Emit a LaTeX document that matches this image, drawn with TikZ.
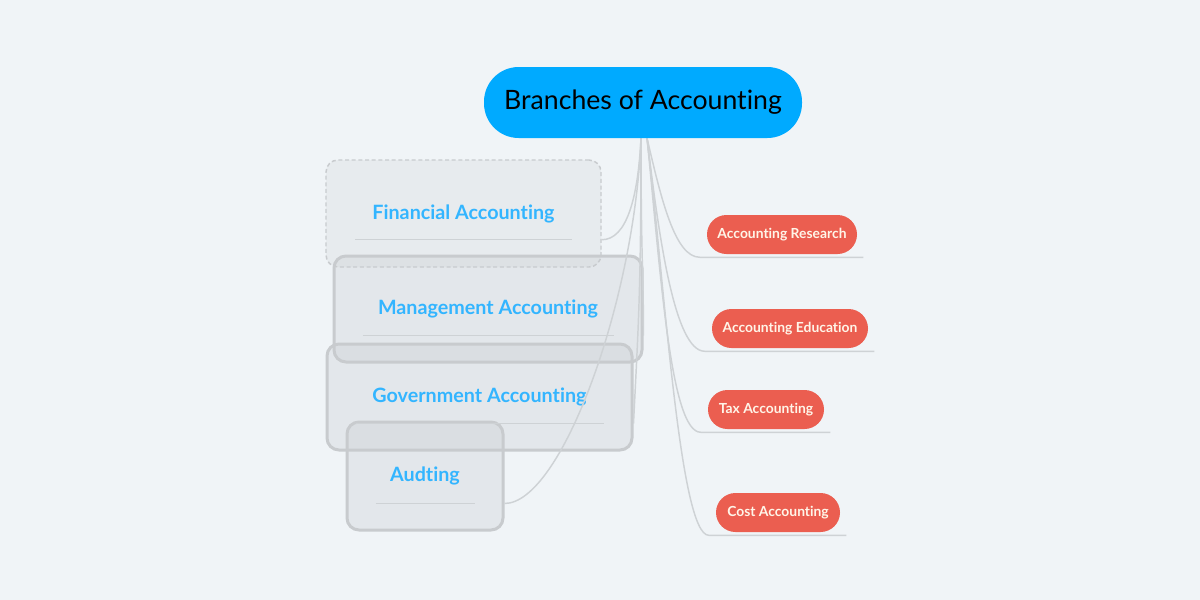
\documentclass[tikz,border=0pt]{standalone}
\usepackage{fontspec}
\setmainfont{Lato}[Ligatures=NoCommon]
\usetikzlibrary{calc}
\definecolor{bgcol}{RGB}{240,244,247}
\definecolor{rootblue}{RGB}{0,170,255}
\definecolor{topicblue}{RGB}{51,181,255}
\definecolor{boxline}{RGB}{200,203,206}
\definecolor{boxfill}{RGB}{200,204,208}
\definecolor{linegray}{RGB}{206,210,213}
\definecolor{leafred}{RGB}{235,94,80}
\definecolor{leaftext}{RGB}{255,245,232}

\begin{document}
\begin{tikzpicture}[x=0.75pt,y=-0.75pt,
  root/.style={fill=rootblue, rounded corners=26pt, minimum width=238.5pt,
    minimum height=53.25pt, font=\fontsize{20}{24}\selectfont},
  topic/.style={draw=boxline, line width=2.25pt, fill=boxfill, fill opacity=0.3,
    text opacity=1, rounded corners=9pt, text=topicblue, minimum height=79.5pt,
    font=\fontsize{14.8}{18}\selectfont\bfseries},
  loose/.style={topic, line width=1.1pt, fill opacity=0.22, dash pattern=on 3pt off 2pt},
  leaf/.style={fill=leafred, text=leaftext, rounded corners=14.6pt,
    minimum height=29.25pt, inner xsep=0pt, font=\fontsize{10.4}{12}\selectfont\bfseries},
  branch/.style={draw=linegray, line width=1.1pt}]

  \fill[bgcol] (0,0) rectangle (1200,600);

  \node[loose, minimum width=206.25pt, minimum height=80.25pt] (fin) at (463.5,213.5) {Financial Accounting};
  \node[topic, minimum width=231pt]                  (mgmt) at (488,309)   {Management Accounting};
  \node[topic, minimum width=228.75pt]               (gov)  at (479.5,397) {Government Accounting};
  \node[topic, minimum width=117pt, minimum height=81pt] (aud) at (425,476) {Audting};

  \foreach \t in {fin,mgmt,gov,aud}
    \draw[branch] ($(\t.south west)+(30,-28)$) -- ($(\t.south east)+(-30,-28)$);

  \node[leaf, minimum width=112.5pt] (research)  at (782,234.5) {Accounting Research};
  \node[leaf, minimum width=117pt]   (education) at (790,328.5) {Accounting Education};
  \node[leaf, minimum width=87pt]    (tax)       at (766,409.5) {Tax Accounting};
  \node[leaf, minimum width=93pt]    (cost)      at (778,512.5) {Cost Accounting};

  \coordinate (hubL) at (641,138);
  \coordinate (hubR) at (647,138);
  \foreach \t in {fin,mgmt,gov,aud}
    \coordinate (\t E) at ($(\t.south east)+(0,-28)$);
  \foreach \t in {research,education,tax,cost} {
    \coordinate (\t L) at ($(\t.south west)+(-7,3)$);
    \coordinate (\t R) at ($(\t.south east)+(6,3)$);
  }

  \draw[branch] (hubL) .. controls +(-3,60) and +(25,0) .. (finE);
  \draw[branch] (hubL) .. controls +(0,120) and +(0,-60) .. (mgmtE);
  \draw[branch] (hubL) .. controls +(0,150) and +(5,-100) .. (govE);
  \draw[branch] (hubL) .. controls +(-6,162) and +(57,0) .. (audE);

  \draw[branch] (hubR) .. controls +(14,60) and +(-25,0) .. (researchL) -- (researchR);
  \draw[branch] (hubR) .. controls +(12,100) and +(-30,0) .. (educationL) -- (educationR);
  \draw[branch] (hubR) .. controls +(14,140) and +(-30,0) .. (taxL) -- (taxR);
  \draw[branch] (hubR) .. controls +(18,150) and +(-29,0) .. (costL) -- (costR);

  \node[root] (root) at (643,102.5) {Branches of Accounting};
\end{tikzpicture}
\end{document}
